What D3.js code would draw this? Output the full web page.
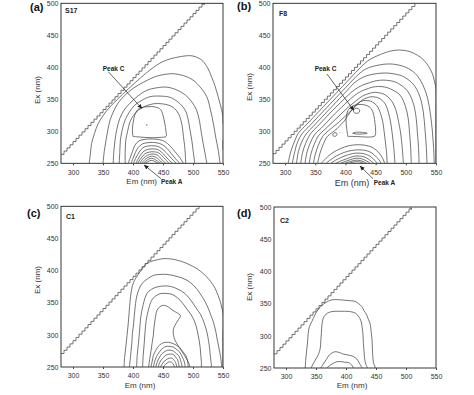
<!DOCTYPE html>
<html>
<head>
<meta charset="utf-8">
<script src="https://cdn.jsdelivr.net/npm/d3@7"></script>
<style>
  body { margin: 0; background: #fff; }
  svg { display: block; font-family: "Liberation Sans", Arial, sans-serif; }
</style>
</head>
<body>
<svg id="chart" width="474" height="395"></svg>
<script>
// ---- data (Em nm, Ex nm) ----
var emDomain = [280, 550];
var exDomain = [250, 500];
var emTicks = [300, 350, 400, 450, 500, 550];
var exTicks = [250, 300, 350, 400, 450, 500];
var panelTags = ["(a)", "(b)", "(c)", "(d)"];
var sampleNames = ["S17", "F8", "C1", "C2"];

// Rayleigh scatter cut-off, start and end of the stepped edge
var scatterEdges = [
  [[280, 264], [516, 500]],
  [[280, 265], [515, 500]],
  [[280, 271], [510, 500]],
  [[280, 272], [508, 500]]
];

var contoursA = [
  [[327,250],[329,265],[331,281],[336,297],[342,312],[356,332],[373,349],[392,366],[412,383],[430,397],[450,409],[475,416],[498,418],[510,414],[517,409],[525,398],[531,385],[537,370],[542,354],[546,340],[549,328],[550,322],[550,312]],
  [[350,250],[352,268],[355,286],[358,302],[362,318],[368,332],[375,344],[386,356],[400,367],[418,377],[439,386],[454,389],[467,390],[484,387],[500,380],[513,368],[523,354],[529,334],[534,312],[538,290],[542,271],[545,250]],
  [[367,250],[368,268],[370,286],[373,303],[378,320],[385,333],[395,344],[408,355],[423,364],[440,368],[456,369],[472,365],[487,357],[498,346],[506,333],[511,315],[514,297],[517,281],[520,266],[523,250]],
  [[377,250],[378,268],[379,286],[382,302],[387,318],[394,330],[403,341],[414,348],[428,354],[445,355],[462,353],[476,345],[487,333],[492,318],[495,302],[498,286],[500,271],[503,250]],
  [[387,250],[387,268],[388,286],[391,300],[395,315],[401,325],[409,333],[420,339],[434,343],[448,343],[462,340],[472,333],[478,323],[482,308],[484,292],[486,278],[487,266],[488,250]],
  // closed ring round Peak C
  [[400,292],[399,302],[401,318],[405,330],[411,336],[425,338.5],[437,338],[446,334],[450,325],[453,312],[455,300],[455,292],[445,290.5],[430,290],[412,291],[400,292]],
  // Peak A arches
  [[392,250],[395,258],[399,268],[403,278],[410,285],[420,287.5],[432,288],[444,287],[453,284],[462,277],[470,268],[478,259],[484,250]],
  [[397,250],[400,258],[404,267],[409,275],[416,280.5],[428,282.5],[440,282],[449,279],[457,273],[464,265],[471,257],[478,250]],
  [[401,250],[404,257],[408,264],[413,271],[420,276],[431,277.5],[441,276.5],[448,273],[455,267],[461,261],[467,255],[472,250]],
  [[405,250],[408,256],[412,262],[417,268],[424,271.5],[433,272.5],[441,271.5],[447,268],[453,262],[459,256],[466,250]],
  [[408,250],[411,255],[415,260],[420,265],[427,267.5],[434,268],[441,267],[446,264],[451,259],[456,254],[460,250]],
  [[411,250],[414,254],[418,258.5],[424,262.5],[431,264.5],[437,264],[442,262],[447,257],[451,253],[455,250]],
  [[414,250],[418,254],[422,257.5],[428,260.5],[433,261],[438,259.5],[443,256],[447,252],[450,250]],
  [[417,250],[421,253],[426,256.5],[431,257.7],[436,256.5],[441,253],[446,250]],
  [[420,250],[425,252.5],[430,254.6],[435,253.5],[439,251.5],[442,250]],
  [[550,271],[550,286]],
  [[423,308.5],[423,311]]
];

var contoursB = [
  [[305,250],[310,270],[316,285],[322,297],[336,311],[350,325],[365,340],[380,355],[395,370],[410,385],[424,399],[440,412],[458,420],[473,425],[489,427],[505,425],[519,419],[530,411],[538,401],[544,390],[547,380],[549,372],[550,365],[550,320],[550,250]],
  [[312,250],[316,268],[321,284],[328,296],[341,309],[355,323],[370,338],[385,353],[400,368],[412,380],[424,391],[435,398],[458,404],[478,405],[500,400],[516,390],[528,373],[536,352],[541,325],[544,300],[546,275],[547,250]],
  [[319,250],[322,268],[327,282],[335,296],[347,308],[360,321],[375,336],[390,351],[403,364],[415,376],[428,384],[440,388],[455,390.5],[470,391],[484,389],[495,386],[512,374],[523,355],[529,330],[532,300],[534,275],[535,250]],
  [[326,250],[329,267],[334,281],[342,296],[354,308],[366,320],[379,333],[392,345],[404,356],[415,365],[428,372],[440,376],[451,379],[462,380],[474,379],[485,376],[502,364],[512,345],[517,322],[519,300],[521,275],[522,250]],
  [[333,250],[336,266],[341,280],[349,295],[360,305],[371,316],[382,327],[393,337],[404,347],[415,356],[425,362],[435,366],[445,369],[455,370],[466,369],[475,366],[490,357],[499,340],[504,320],[506,300],[508,275],[509,250]],
  [[340,250],[343,265],[348,279],[356,294],[366,303],[376,312],[386,321],[396,330],[405,338],[414,345],[422,351],[430,356],[439,359],[448,361],[456,360],[464,358],[476,348],[484,332],[488,315],[491,300],[494,275],[496,250]],
  [[347,250],[350,264],[355,278],[363,293],[372,301],[381,308],[390,315],[399,323],[407,330],[414,337],[421,343],[428,349],[435,352],[442,354],[449,353.5],[455,352],[465,344],[471,330],[475,313],[477,300],[480,275],[482,250]],
  [[354,250],[357,263],[362,277],[370,292],[378,298],[386,304],[392,310],[398,316],[403,323],[408,330],[413,336],[418,342],[424,346],[430,348],[436,348],[442,347],[452,340],[458,328],[462,314],[464,300],[466,285],[468,268],[469,250]],
  // closed ring round Peak C
  [[404,292],[402,305],[401,318],[403,330],[408,337],[416,341],[426,342],[436,340],[443,335],[447,325],[449,312],[450,300],[449,293],[440,291],[425,291.5],[412,292],[404,292]],
  // Peak A arches
  [[360,250],[368,258],[378,266],[392,273],[406,277.5],[420,279],[434,278],[446,274],[455,267],[461,259],[465,250]],
  [[368,250],[376,256],[386,262],[398,267],[410,270],[422,271],[434,270],[444,266],[451,260],[456,255],[459,250]],
  [[376,250],[384,255],[394,259.5],[405,263.5],[418,266],[430,265],[439,262],[446,257],[450,253],[453,250]],
  [[384,250],[392,253.5],[402,257],[412,260.5],[421,261.5],[431,260],[438,256.5],[443,253],[447,250]],
  [[392,250],[400,253],[409,256],[418,258],[427,257],[434,254],[438,252],[441,250]],
  [[399,250],[407,252.5],[415,254.5],[422,254.7],[429,253],[435,250]],
  [[406,250],[413,251.8],[420,252.5],[426,251.5],[430,250]],
  // small closed features
  [[413,332],[415,335],[419,336],[423,334],[423,330],[419,328],[415,329],[413,332]],
  [[379,295],[381,297.5],[385,297.5],[386,295],[384,292.5],[380,292.5],[379,295]],
  [[412,297],[418,298.5],[428,298.3],[436,297],[428,295.8],[418,295.8],[412,297]],
  [[391,298],[392,299]]
];

var contoursC = [
  [[385,250],[386,265],[388,281],[390,299],[392,317],[394,340],[396,360],[398,372],[401,382],[411,397],[423,411],[437,416],[451,418.6],[470,417],[490,411],[508,402],[523,390],[531,381],[537,372],[542,361],[546,350],[548,342],[550,334],[550,290],[550,250]],
  [[394,250],[396,268],[398,286],[399,302],[401,317],[403,338],[406,359],[410,371],[415,380],[424,387],[434,392.6],[445,394],[456.5,394],[473,391],[490,385],[502,376],[512,364],[520,352],[526,340],[530,330],[534,320],[538,305],[541,290],[544,276],[546,266],[547,258],[548,250]],
  [[406,250],[407,268],[409,286],[411,307],[413,328],[417,347],[423,364],[431,371],[440,374.5],[451,376],[462,375.5],[475,371],[487,364],[497,353],[505,342],[513,331],[518,320],[523,305],[526,290],[528,276],[529,266],[531,250]],
  [[416,250],[417,268],[418.6,286],[420,304],[422,322.6],[426,340],[431,353.7],[437,360],[445,364],[455,364.5],[465,363],[475,357],[483,349],[490,340],[497,331],[503,320],[507,307],[510,293],[512,280],[513,268],[514,258],[514,250]],
  [[426,250],[428,263],[430,275],[432,288],[434,300],[435,312],[437,325],[440,338],[445,344],[451,346],[458,344],[465,339],[472,335],[479,330],[476,324],[472,318],[468,311],[467,305],[468,297],[471,290],[476,282],[483,272],[489,263],[493,256],[495,250]],
  [[430,250],[432,259],[434,268],[438,276],[442,282],[447,286],[452,288],[459,288.5],[465,287],[472,284],[478,280],[483,274],[488,268],[491,259],[492,250]],
  [[434,250],[436,258],[439,266],[443,272],[447,277],[451,280],[455,282],[461,282],[467,281],[473,277],[478,273],[482,266],[484,262],[486,256],[487,250]],
  [[438,250],[440,257],[443,263],[446,268],[450,272],[457,276],[463,276],[467,275],[472,271],[476,268],[480,258],[482,250]],
  [[442,250],[444,256],[447,261],[451,265],[454,268],[460,270],[465,270],[468,269],[472,264],[474,262],[477,250]],
  [[446,250],[448,254],[451,258],[455,261],[458,263],[463,264],[466,263],[469,260],[471,257],[473,250]],
  [[450,250],[453,253],[455,255],[458,257],[461,258],[464,257.5],[466,256],[468,253],[469,250]]
];

var contoursD = [
  [[332,250],[333,264],[334.5,278],[336,291],[337,304],[339,314],[343,322],[348,332],[353,340],[359.5,347],[367,352],[376,355.8],[388,356],[400,355],[415,353.4],[421,350],[426,345.6],[430,339],[434.5,332.6],[437,326],[440,319.5],[442,306],[443.4,293.5],[444,280],[444.7,267.5],[446,258],[449,250]],
  [[342,250],[346,258],[350,264],[354,271],[357,280],[358,292],[359,305],[360,318],[362,327],[366,333],[372,336.5],[380,338],[392,338],[402,338],[410,337],[416,335],[421,330],[425,323],[427,313],[428.5,300],[429,288],[430,276],[431,265],[433,256],[436,250]],
  [[358,250],[362,256],[367,263],[372,270],[377,273.5],[382,275.3],[389,274],[396,271.5],[404,270],[412,268],[418,264],[422,258],[425,253],[427,250]],
  [[368,250],[373,254],[378,257],[384,259.5],[390,260],[398,259],[404,258.5],[408,256],[411,253],[412,250]]
];

var allContours = [contoursA, contoursB, contoursC, contoursD];

// peak annotations: label (Em, Ex), arrow from -> to
var peakNotes = [
  { panel: 0, text: "Peak C", at: [349.5, 394.7], from: [358.9, 393], to: [414.5, 336] },
  { panel: 0, text: "Peak A", at: [446.7, 217.7], from: [446.7, 226], to: [419, 247] },
  { panel: 1, text: "Peak C", at: [349, 393.8], from: [369.4, 389.5], to: [413.6, 333] },
  { panel: 1, text: "Peak A", at: [446.8, 215.6], from: [445.6, 226], to: [424.6, 245.3] }
];

// ---- layout (pixels) ----
var layout = [
  { x0: 61,  x1: 223, y0: 3.3,   y1: 163.3, tag: [30, 11],   name: [65, 13],   exLab: [39.5, 90],  emLab: [141.7, 184], emSize: 8 },
  { x0: 273, x1: 436, y0: 3.3,   y1: 163.3, tag: [237, 10],  name: [279, 16],  exLab: [252, 87],   emLab: [352, 186],   emSize: 9 },
  { x0: 61,  x1: 223, y0: 206.3, y1: 367,   tag: [27, 217],  name: [66, 219],  exLab: [39.5, 280], emLab: [140, 388],   emSize: 8 },
  { x0: 274, x1: 436, y0: 207,   y1: 368,   tag: [237, 217], name: [280, 223], exLab: [252, 287],  emLab: [352, 388],   emSize: 8 }
];

var ink = "#3a3a3a";
var svg = d3.select("#chart");

svg.append("defs").append("marker")
  .attr("id", "arrowhead")
  .attr("viewBox", "0 -3 6 6")
  .attr("refX", 5).attr("refY", 0)
  .attr("markerWidth", 5).attr("markerHeight", 5)
  .attr("markerUnits", "userSpaceOnUse")
  .attr("orient", "auto")
  .append("path").attr("d", "M0,-2.5L6,0L0,2.5Z").attr("fill", "#222");

layout.forEach(function(p, i) {
  var x = d3.scaleLinear().domain(emDomain).range([p.x0, p.x1]);
  var y = d3.scaleLinear().domain(exDomain).range([p.y1, p.y0]);
  var g = svg.append("g");

  svg.select("defs").append("clipPath").attr("id", "clip" + i)
    .append("rect")
    .attr("x", p.x0).attr("y", p.y0)
    .attr("width", p.x1 - p.x0).attr("height", p.y1 - p.y0);

  var line = d3.line()
    .x(function(d) { return x(d[0]); })
    .y(function(d) { return y(d[1]); })
    .curve(d3.curveCatmullRom.alpha(0.5));

  var plot = g.append("g").attr("clip-path", "url(#clip" + i + ")");

  // contour lines
  plot.selectAll(".contour").data(allContours[i]).enter()
    .append("path")
    .attr("class", "contour")
    .attr("d", line)
    .attr("fill", "none")
    .attr("stroke", ink)
    .attr("stroke-width", 0.7);

  // stepped scatter cut-off edge, 5 nm steps
  var e = scatterEdges[i];
  var steps = [];
  d3.range(e[0][0], e[1][0], 5).forEach(function(em, k) {
    var ex = e[0][1] + k * 5;
    steps.push([em, ex]);
    steps.push([em + 5, ex]);
  });
  steps.push([e[1][0], e[1][1]]);
  plot.append("path")
    .attr("d", d3.line().x(function(d) { return x(d[0]); }).y(function(d) { return y(d[1]); })
      .curve(d3.curveStepAfter)(steps))
    .attr("fill", "none")
    .attr("stroke", ink)
    .attr("stroke-width", 0.7);

  // frame
  g.append("rect")
    .attr("x", p.x0).attr("y", p.y0)
    .attr("width", p.x1 - p.x0).attr("height", p.y1 - p.y0)
    .attr("fill", "none").attr("stroke", "#222").attr("stroke-width", 0.9);

  // axes
  var xAxis = g.append("g")
    .attr("transform", "translate(0," + p.y1 + ")")
    .call(d3.axisBottom(x).tickValues(emTicks).tickSize(2).tickSizeOuter(0).tickPadding(4.5));
  var yAxis = g.append("g")
    .attr("transform", "translate(" + p.x0 + ",0)")
    .call(d3.axisLeft(y).tickValues(exTicks).tickSize(0).tickPadding(2.5));
  [xAxis, yAxis].forEach(function(a) {
    a.select(".domain").remove();
    a.selectAll("line").attr("stroke", "#444");
    a.selectAll("text").attr("font-size", 7).attr("fill", "#333")
      .style("font-family", "'Liberation Sans', Arial, sans-serif");
  });

  // titles
  g.append("text")
    .attr("x", p.emLab[0]).attr("y", p.emLab[1])
    .attr("text-anchor", "middle")
    .attr("font-size", p.emSize).attr("fill", "#333")
    .text("Em (nm)");
  g.append("text")
    .attr("transform", "translate(" + p.exLab[0] + "," + p.exLab[1] + ") rotate(-90)")
    .attr("text-anchor", "middle")
    .attr("font-size", 8).attr("fill", "#333")
    .text("Ex (nm)");
  g.append("text")
    .attr("x", p.tag[0]).attr("y", p.tag[1])
    .attr("font-size", 11).attr("font-weight", "bold").attr("fill", "#111")
    .text(panelTags[i]);
  g.append("text")
    .attr("x", p.name[0]).attr("y", p.name[1])
    .attr("font-size", 7).attr("font-weight", "bold").attr("fill", "#222")
    .text(sampleNames[i]);

  // peak labels + arrows
  peakNotes.filter(function(n) { return n.panel === i; }).forEach(function(n) {
    g.append("line")
      .attr("x1", x(n.from[0])).attr("y1", y(n.from[1]))
      .attr("x2", x(n.to[0])).attr("y2", y(n.to[1]))
      .attr("stroke", "#222").attr("stroke-width", 0.7)
      .attr("marker-end", "url(#arrowhead)");
    g.append("text")
      .attr("x", x(n.at[0])).attr("y", y(n.at[1]))
      .attr("font-size", 6.5).attr("font-weight", "bold").attr("fill", "#222")
      .text(n.text);
  });
});
</script>
</body>
</html>
